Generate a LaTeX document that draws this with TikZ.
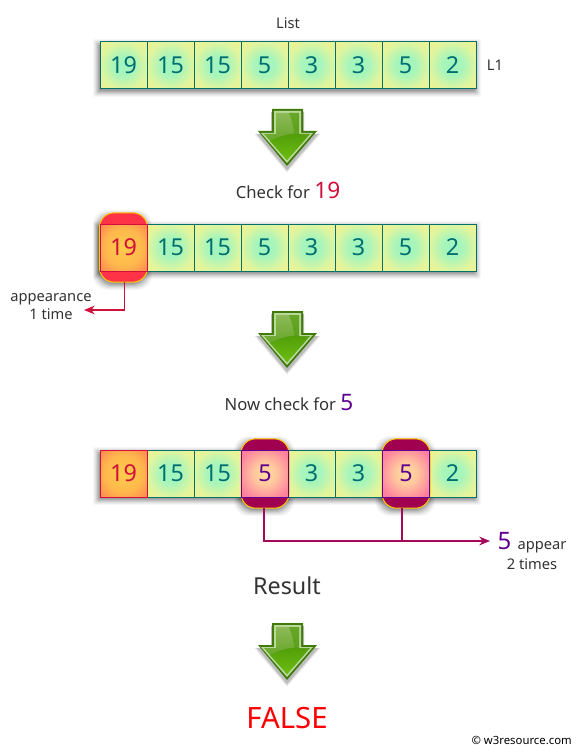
\documentclass[tikz,border=0pt]{standalone}
\usepackage{fontspec}
\setmainfont{Noto Sans}
\usetikzlibrary{arrows.meta,calc}
\definecolor{teal1}{HTML}{006F70}
\definecolor{txtgray}{HTML}{333333}
\definecolor{redt}{HTML}{D0103A}
\definecolor{purp}{HTML}{5F0090}
\definecolor{wine}{HTML}{A5085A}
\definecolor{capred}{HTML}{FF3348}
\definecolor{capwine}{HTML}{A0004F}
\definecolor{gold}{HTML}{FFC800}
\definecolor{arrline}{HTML}{3F7A0A}
\definecolor{arrtop}{HTML}{8DB958}
\definecolor{arrmid}{HTML}{4E9A0A}
\definecolor{arrhi}{HTML}{B9D89A}
\definecolor{arrlow}{HTML}{6CBD10}
\pgfdeclareradialshading{cellS}{\pgfpoint{0bp}{0bp}}{rgb(0bp)=(0.62,0.96,0.75);rgb(11bp)=(0.66,0.96,0.73);rgb(25bp)=(0.88,0.96,0.62);rgb(36bp)=(0.95,0.95,0.56);rgb(100bp)=(0.95,0.95,0.56)}
\pgfdeclareradialshading{redS}{\pgfpoint{0bp}{0bp}}{rgb(0bp)=(1,0.80,0.30);rgb(20bp)=(1,0.72,0.30);rgb(36bp)=(1,0.52,0.32);rgb(100bp)=(1,0.52,0.32)}
\pgfdeclareradialshading{pinkS}{\pgfpoint{0bp}{0bp}}{rgb(0bp)=(1,0.87,0.62);rgb(12bp)=(1,0.78,0.62);rgb(30bp)=(1,0.50,0.62);rgb(100bp)=(1,0.50,0.62)}
\tikzset{
  x=0.75pt,y=-0.75pt,
  cell/.style={draw=teal1,line width=0.75pt,minimum width=35.25pt,minimum height=35.25pt,inner sep=0pt,outer sep=0pt,shading=cellS,text=teal1,font=\fontsize{17.5}{20}\selectfont},
  hotred/.style={cell,draw=redt,shading=redS,text=redt},
  hotpink/.style={cell,draw=purp,shading=pinkS,text=purp},
  capshape/.style={draw=gold,line width=0.75pt,rounded corners=11pt,minimum width=36pt,minimum height=52pt,inner sep=0pt,outer sep=0pt},
  lab/.style={text=txtgray,font=\fontsize{11}{14}\selectfont,align=center,inner sep=0pt},
  headlab/.style={lab,font=\fontsize{12.5}{15}\selectfont},
  conn/.style={line width=1.2pt,-{Stealth[length=8pt,width=6.5pt,inset=2.5pt]}},
  connp/.style={line width=1.2pt},
}
\newcommand{\softshadow}[5]{%
  \foreach \d/\o in {7/.03,6/.04,5/.05,4/.06,3/.08,2/.09,1/.10}{
    \fill[black,opacity=\o,rounded corners=#5] ({#1-\d},{#2-\d+4}) rectangle ({#3+\d-2},{#4+\d+1});
  }}
\newcommand{\bigarrow}[1]{%
  \begin{scope}[yshift={-0.75pt*(#1)}]
    \foreach \d/\o in {4/.04,3/.06,2/.08,1/.10}{
      \fill[black,opacity=\o] (271,112) -- (304,112) -- (304,134) -- ({317+\d},134) -- (287,{169+\d}) -- ({258-\d},134) -- (271,134) -- cycle;
    }
    \fill[arrline] (272,109) -- (303,109) -- (303,131) -- (317,131) -- (287,166) -- (258,131) -- (272,131) -- cycle;
    \fill[arrhi] (287,163) -- (313,133) -- (301,133) -- (301,111) -- (274,111) -- (274,133) -- (261,133) -- cycle;
    \shade[top color=arrtop,bottom color=arrmid] (287,160) -- (310,134) -- (299,134) -- (299,113) -- (276,113) -- (276,134) -- (264,134) -- cycle;
    \fill[arrmid,opacity=.6] (299,113) -- (299,134) -- (310,134) -- (292,154) .. controls (296,136) and (294,125) .. (289,113) -- cycle;
    \shade[top color=arrmid,bottom color=arrlow] (287,160) -- (307,137) .. controls (296,130) and (280,136) .. (270,141) -- cycle;
  \end{scope}}
\begin{document}
\begin{tikzpicture}
\useasboundingbox (0,0) rectangle (579,752);
\fill[white] (0,0) rectangle (579,752);

% ---- row 1
\node[lab] (tlist) at (288,23) {List};
\softshadow{100}{42}{476}{89}{1pt}
\foreach \n/\v [count=\i from 0] in {a1/19,a2/15,a3/15,a4/5,a5/3,a6/3,a7/5,a8/2}{
  \node[cell] (\n) at ({123.5+47*\i},65.5) {\v};
}
\node[lab] (tl1) at (495,65) {L1};
\bigarrow{0}

% ---- row 2
\node[headlab] (tcheck) at (288,190.5) {Check for {\fontsize{17}{20}\selectfont\color{redt}19}};
\softshadow{100}{224}{476}{271}{1pt}
\softshadow{100}{213}{147}{282}{11pt}
\foreach \n/\v [count=\i from 1] in {b2/15,b3/15,b4/5,b5/3,b6/3,b7/5,b8/2}{
  \node[cell] (\n) at ({123.5+47*\i},247.5) {\v};
}
\node[capshape,fill=capred] (b1cap) at (123.5,247.5) {};
\node[hotred] (b1) at (123.5,247.5) {19};
\coordinate (b1end) at (84,310);
\draw[conn,redt] (b1cap.south) ++(1,0) |- (b1end);
\node[lab] (tapp) at (51,306.5) {appearance\\1 time};
\bigarrow{202}

% ---- row 3
\node[headlab] (tnow) at (289,403) {Now check for {\fontsize{17}{20}\selectfont\color{purp}5}};
\softshadow{100}{450}{476}{497}{1pt}
\softshadow{241}{439}{289}{508}{11pt}
\softshadow{382}{439}{430}{508}{11pt}
\foreach \n/\v [count=\i from 1] in {c2/15,c3/15,c4x/5,c5/3,c6/3,c7x/5,c8/2}{
  \node[cell] (\n) at ({123.5+47*\i},473.5) {\v};
}
\node[hotred] (c1) at (123.5,473.5) {19};
\node[capshape,fill=capwine] (c4cap) at (265,473.5) {};
\node[hotpink] (c4) at (265,473.5) {5};
\node[capshape,fill=capwine] (c7cap) at (406,473.5) {};
\node[hotpink] (c7) at (406,473.5) {5};
\coordinate (c3end) at (490,541);
\coordinate (c3j) at (402,541);
\draw[conn,wine] (c4cap.south) ++(-1,0) |- (c3end);
\draw[connp,wine] (c7cap.south) ++(-4,0) -- (c3j);
\node[lab,anchor=north] (tapp2) at (532,532) {{\fontsize{18}{20}\selectfont\color{purp}5}\, appear\\[1pt]2 times};

% ---- result
\node[lab,font=\fontsize{17.5}{20}\selectfont] (tres) at (287,586) {Result};
\bigarrow{514}
\node[text=red,font=\fontsize{22}{24}\selectfont,inner sep=0pt] (tfalse) at (287,718) {FALSE};
\node[text=black,font=\fontsize{8.5}{10}\selectfont,inner sep=0pt,anchor=east] (tcopy) at (572,740.5) {© w3resource.com};
\end{tikzpicture}
\end{document}
